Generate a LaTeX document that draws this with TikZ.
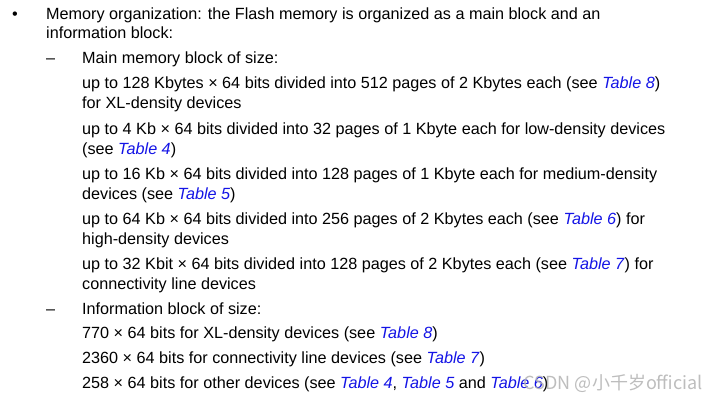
\documentclass[tikz,border=0pt]{standalone}
\usepackage{fontspec}
\setmainfont{Liberation Sans}
\newfontfamily\cjk{Noto Sans CJK SC}
\definecolor{lnk}{RGB}{20,20,230}
\newcommand{\tb}[1]{\textcolor{lnk}{\textit{Table #1}}}
\begin{document}
\begin{tikzpicture}[x=1pt,y=1pt,
  ln/.style={anchor=base west,inner sep=0pt,font=\fontsize{16.2}{19}\selectfont}]
\useasboundingbox[fill=white] (0,0) rectangle (706,-401);
\node[ln] (b) at (12,-20) {•};
\node[ln] (l1) at (46,-20) {Memory organization: the Flash memory is organized as a main block and an};
\node[ln] (l2) at (46,-39) {information block:};
\node[ln] (d1) at (46,-64) {–};
\node[ln] (l3) at (82,-64) {Main memory block of size:};
\node[ln] (l4) at (82,-89) {up to 128 Kbytes × 64 bits divided into 512 pages of 2 Kbytes each (see \tb{8})};
\node[ln] (l5) at (82,-109) {for XL-density devices};
\node[ln] (l6) at (82,-134) {up to 4 Kb × 64 bits divided into 32 pages of 1 Kbyte each for low-density devices};
\node[ln] (l7) at (82,-154) {(see \tb{4})};
\node[ln] (l8) at (82,-179) {up to 16 Kb × 64 bits divided into 128 pages of 1 Kbyte each for medium-density};
\node[ln] (l9) at (82,-199) {devices (see \tb{5})};
\node[ln] (l10) at (82,-224) {up to 64 Kb × 64 bits divided into 256 pages of 2 Kbytes each (see \tb{6}) for};
\node[ln] (l11) at (82,-244) {high-density devices};
\node[ln] (l12) at (82,-269) {up to 32 Kbit × 64 bits divided into 128 pages of 2 Kbytes each (see \tb{7}) for};
\node[ln] (l13) at (82,-289) {connectivity line devices};
\node[ln] (d2) at (46,-314) {–};
\node[ln] (l14) at (82,-314) {Information block of size:};
\node[ln] (l15) at (82,-338) {770 × 64 bits for XL-density devices (see \tb{8})};
\node[ln] (l16) at (82,-363) {2360 × 64 bits for connectivity line devices (see \tb{7})};
\node[ln] (l17) at (82,-388) {258 × 64 bits for other devices (see \tb{4}, \tb{5} and \tb{6})};
\node[anchor=base east,inner sep=0pt,font=\cjk\fontsize{18}{19}\selectfont,text=gray!60,opacity=0.85] (wm) at (703,-389) {CSDN @小千岁official};
\end{tikzpicture}
\end{document}
